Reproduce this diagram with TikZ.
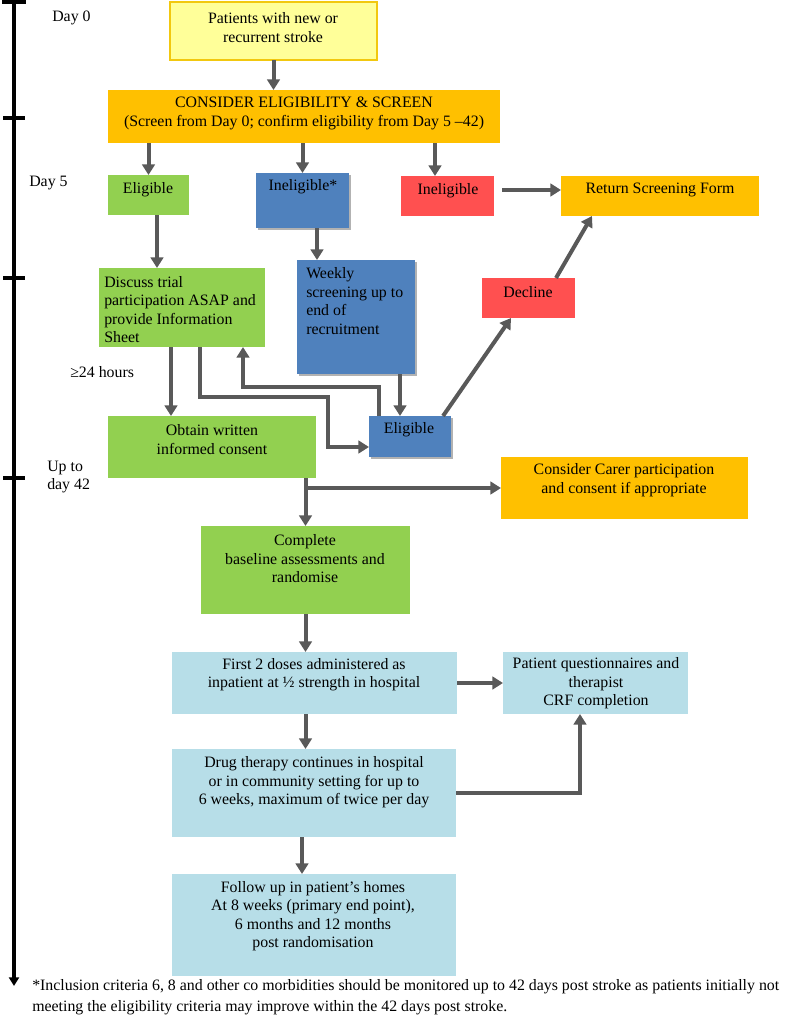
\documentclass[tikz,border=0pt]{standalone}
\usepackage{fontspec}
\setmainfont{Liberation Serif}
\usetikzlibrary{arrows.meta,fit,shadows}
\definecolor{cOrange}{HTML}{FFC000}
\definecolor{cGreen}{HTML}{92D050}
\definecolor{cBlue}{HTML}{4F81BD}
\definecolor{cRed}{HTML}{FF5050}
\definecolor{cLight}{HTML}{B7DEE8}
\definecolor{cYellow}{HTML}{FFFF99}
\definecolor{cYellowEdge}{HTML}{F2C80F}
\definecolor{cArrow}{HTML}{595959}
\begin{document}
\begin{tikzpicture}[x=0.75pt,y=-0.75pt,
  box/.style={inner sep=0pt, outer sep=0pt, draw=none},
  shad/.style={drop shadow={shadow xshift=1.8pt, shadow yshift=-1.8pt, fill=black, opacity=0.3}},
  txt/.style={font=\fontsize{11.9}{13.9}\selectfont, align=center, inner sep=0pt, text=black},
  ltxt/.style={font=\fontsize{11.9}{13.9}\selectfont, align=left, inner sep=0pt, text=black},
  arr/.style={draw=cArrow, line width=3pt, line join=miter, -{Triangle[width=9.5pt,length=8pt]}},
  tick/.style={draw=black, line width=2.4pt}
]
\useasboundingbox (0,0) rectangle (785,1017);

% timeline
\draw[line width=2.4pt, -{Triangle[width=7.5pt,length=6.5pt]}] (14,0) -- (14,986);
\draw[tick] (2,2) -- (26,2);
\draw[tick] (3,118) -- (25,118);
\draw[tick] (3,278) -- (25,278);
\draw[tick] (3,478) -- (25,478);
\node[ltxt, anchor=west] (lday0) at (52,18) {Day 0};
\node[ltxt, anchor=west] (lday5) at (29,183) {Day 5};
\node[ltxt, anchor=west] (l24) at (70,372) {≥24 hours};
\node[ltxt, anchor=west] (l42) at (47,477) {Up to\\day 42};

% boxes
\node[box, fill=cYellow, draw=cYellowEdge, line width=1.5pt, fit={(170,2) (377,60)}] (patients) {};
\node[box, fill=cOrange, fit={(108,90) (500,143)}] (consider) {};
\node[box, fill=cGreen, fit={(108,175) (189,215)}] (elig1) {};
\node[box, fill=cBlue, shad, fit={(256,173) (349,228)}] (inelstar) {};
\node[box, fill=cRed, fit={(401,176) (494,216)}] (inelred) {};
\node[box, fill=cOrange, fit={(561,176) (759,216)}] (ret) {};
\node[box, fill=cGreen, fit={(99,268) (265,347)}] (discuss) {};
\node[box, fill=cBlue, shad, fit={(297,260) (415,374)}] (weekly) {};
\node[box, fill=cRed, fit={(482,278) (575,318)}] (decline) {};
\node[box, fill=cGreen, fit={(108,416) (316,478)}] (consent) {};
\node[box, fill=cBlue, shad, fit={(369,416) (451,457)}] (elig2) {};
\node[box, fill=cOrange, fit={(501,457) (748,519)}] (carer) {};
\node[box, fill=cGreen, fit={(201,526) (410,614)}] (complete) {};
\node[box, fill=cLight, fit={(172,652) (457,714)}] (first) {};
\node[box, fill=cLight, fit={(503,652) (688,714)}] (pq) {};
\node[box, fill=cLight, fit={(172,749) (456,837)}] (drug) {};
\node[box, fill=cLight, fit={(172,874) (456,976)}] (follow) {};

% texts
\node[txt] (tpatients) at (273,27.5) {Patients with new or\\recurrent stroke};
\node[txt] (tconsider) at (304,113.5) {CONSIDER ELIGIBILITY \& SCREEN\\(Screen from Day 0; confirm eligibility from Day 5 –42)};
\node[txt] (telig1) at (148,190) {Eligible};
\node[txt] (tinelstar) at (303,187) {Ineligible*};
\node[txt] (tinelred) at (448,191) {Ineligible};
\node[txt] (tret) at (660,190) {Return Screening Form};
\node[ltxt, anchor=west] (tdiscuss) at (104,309.5) {Discuss trial\\participation ASAP and\\provide Information\\Sheet};
\node[ltxt, anchor=west] (tweekly) at (306,301) {Weekly\\screening up to\\end of\\recruitment};
\node[txt] (tdecline) at (528,292) {Decline};
\node[txt] (tconsent) at (212,439.5) {Obtain written\\informed consent};
\node[txt] (telig2) at (409,430) {Eligible};
\node[txt] (tcarer) at (624,480) {Consider Carer participation\\and consent if appropriate};
\node[txt] (tcomplete) at (305,559) {Complete\\baseline assessments and\\randomise};
\node[txt] (tfirst) at (314,674.5) {First 2 doses administered as\\inpatient at ½ strength in hospital};
\node[txt] (tpq) at (596,683.5) {Patient questionnaires and\\therapist\\CRF completion};
\node[txt] (tdrug) at (314,782.5) {Drug therapy continues in hospital\\or in community setting for up to\\6 weeks, maximum of twice per day};
\node[txt] (tfollow) at (313,916) {Follow up in patient’s homes\\At 8 weeks (primary end point),\\6 months and 12 months\\post randomisation};
\node[ltxt, anchor=west, font=\fontsize{11.9}{15.8}\selectfont] (tfoot) at (32,997.5) {*Inclusion criteria 6, 8 and other co morbidities should be monitored up to 42 days post stroke as patients initially not\\meeting the eligibility criteria may improve within the 42 days post stroke.};

% connectors
\draw[arr] (patients.south) -- (patients.south |- consider.north);
\draw[arr] (consider.south -| elig1.north) -- (elig1.north);
\draw[arr] (consider.south -| inelstar.north) -- (inelstar.north);
\draw[arr] (consider.south -| 435,0) -- (inelred.north -| 435,0);
\draw[arr] ([xshift=6pt,yshift=4.5pt]inelred.east) -- ([yshift=4.5pt]ret.west);
\draw[arr] (elig1.south -| 157,0) -- (discuss.north -| 157,0);
\draw[arr] (inelstar.south -| 317,0) -- (weekly.north -| 317,0);
\draw[arr] (weekly.south -| 400,0) -- (elig2.north -| 400,0);
\draw[arr] (elig2.north -| 443,0) -- (decline.south -| 511,0);
\draw[arr] (decline.north -| 556,0) -- (ret.south -| 592,0);
\draw[arr] (discuss.south -| 171,0) -- (consent.north -| 171,0);
\draw[arr] (discuss.south -| 200,0) |- (328,397) |- (elig2.west |- 0,447);
\draw[arr] (elig2.north -| 379,0) |- (243,387) -- (discuss.south -| 243,0);
\draw[arr] (consent.south -| complete.north) -- (complete.north);
\draw[arr] (carer.west -| complete.north) -- (carer.west);
\draw[arr] (complete.south) -- (complete.south |- first.north);
\draw[arr] (first.east) -- (pq.west);
\draw[arr] (first.south -| complete.south) -- (drug.north -| complete.south);
\draw[arr] (drug.east) -| (pq.south -| 580,0);
\draw[arr] (drug.south -| 302,0) -- (follow.north -| 302,0);
\end{tikzpicture}
\end{document}
